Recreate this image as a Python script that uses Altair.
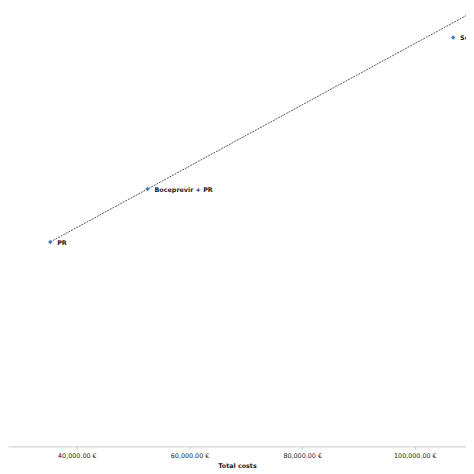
import altair as alt
import pandas as pd

# Data
strategies = ["PR", "Boceprevir + PR", "Sofosbuvir + PR"]
costs = [35290, 52565, 106800]
effects = [7.06, 8.89, 14.12]

line_costs = [35290, 110000]
line_effects = [7.06, 14.97]

x_ticks = [40000, 60000, 80000, 100000]

pts = pd.DataFrame({"strategy": strategies, "cost": costs, "effect": effects})
ln = pd.DataFrame({"cost": line_costs, "effect": line_effects})

xscale = alt.Scale(domain=[27783, 109075], nice=False, zero=False)
yscale = alt.Scale(domain=[0, 15], nice=False, zero=True)

xaxis = alt.Axis(
    values=x_ticks,
    labelExpr="format(datum.value, ',.2f') + ' €'",
    grid=False,
    domainColor="#c8c8c8",
    domainWidth=1,
    tickColor="#c8c8c8",
    tickSize=3,
    labelFont="DejaVu Sans",
    labelFontSize=6.5,
    labelColor="#222222",
    labelPadding=3,
    title="Total costs",
    titleFont="DejaVu Sans",
    titleFontSize=6.5,
    titleFontWeight="bold",
    titleColor="#222222",
    titlePadding=4,
)

X = alt.X("cost:Q", scale=xscale, axis=xaxis)
Y = alt.Y("effect:Q", scale=yscale, axis=None)

line = alt.Chart(ln).mark_line(
    color="#555555", strokeWidth=1, strokeDash=[2, 1], clip=True
).encode(x=X, y=Y)

points = alt.Chart(pts).mark_point(
    shape="diamond", filled=True, color="#4a7ebb", size=22, opacity=1, clip=True
).encode(x=X, y=Y)

labels = alt.Chart(pts).mark_text(
    align="left", baseline="middle", dx=7, dy=1, fontSize=6.5,
    font="DejaVu Sans", fontWeight="bold", color="#222222", clip=True
).encode(x=X, y=Y, text="strategy:N")

chart = alt.layer(line, points, labels).properties(
    width=466,
    height=442,
    background="white",
    autosize=alt.AutoSizeParams(type="none"),
    padding={"left": 0, "top": 0, "right": 0, "bottom": 24},
).configure_view(strokeWidth=0, strokeOpacity=0).configure_axis(grid=False)

chart.save("out.html", embed_options={"renderer": "svg", "actions": False})
